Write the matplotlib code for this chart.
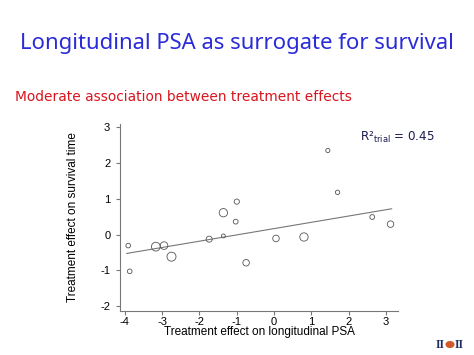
"""Longitudinal PSA as surrogate for survival: trial-level scatter."""

import matplotlib
matplotlib.use("Agg")
import matplotlib.pyplot as plt

# ── data ─────────────────────────────────────────────────────────────────────
psa_effect = [-3.91, -3.87, -3.17, -2.95, -2.75, -1.74, -1.36, -1.36, -1.03,
              -1.00, -0.75, 0.05, 0.80, 1.44, 1.70, 2.63, 3.12]
surv_effect = [-0.31, -1.03, -0.34, -0.31, -0.62, -0.13, -0.04, 0.61, 0.36,
               0.92, -0.79, -0.11, -0.07, 2.35, 1.18, 0.49, 0.29]
trial_weight = [11, 11, 40, 30, 42, 19, 8, 36, 12,
                14, 22, 22, 36, 9, 10, 12, 22]

fit_x = [-3.95, 3.15]
fit_y = [-0.53, 0.72]

x_ticks = [-4, -3, -2, -1, 0, 1, 2, 3]
y_ticks = [-2, -1, 0, 1, 2, 3]

TITLE = "Longitudinal PSA as surrogate for survival"
SUBTITLE = "Moderate association between treatment effects"

# ── figure ───────────────────────────────────────────────────────────────────
fig = plt.figure(figsize=(4.74, 3.55), dpi=100)
fig.patch.set_facecolor("white")

fig.text(237 / 474, 1 - 43 / 355, TITLE, color="#2b2bd8", fontsize=15.9,
         family="Noto Sans", ha="center", va="center")
fig.text(15 / 474, 1 - 97 / 355, SUBTITLE, color="#d8141c", fontsize=9.9,
         family="DejaVu Sans", ha="left", va="center")

ax = fig.add_axes([120 / 474, 1 - 311 / 355, 278 / 474, 187.3 / 355])
ax.scatter(psa_effect, surv_effect, s=trial_weight, facecolors="none",
           edgecolors="#555555", linewidths=0.6, zorder=3)
ax.plot(fit_x, fit_y, color="#777777", linewidth=0.8)

ax.set_xlim(-4.13, 3.32)
ax.set_ylim(-2.14, 3.1)
ax.set_xticks(x_ticks)
ax.set_yticks(y_ticks)
ax.set_xticklabels([str(v) for v in x_ticks])
ax.set_yticklabels([str(v) for v in y_ticks])

for side in ("top", "right"):
    ax.spines[side].set_visible(False)
for side in ("left", "bottom"):
    ax.spines[side].set_color("#777777")
    ax.spines[side].set_linewidth(0.8)
ax.tick_params(direction="out", length=3, width=0.8, color="#777777",
               labelsize=8, labelfontfamily="Liberation Sans")
ax.tick_params(axis="x", pad=1.5)
ax.tick_params(axis="y", pad=4)

ax.set_xlabel("Treatment effect on longitudinal PSA", fontsize=8.5,
              family="Liberation Sans", labelpad=-1)
ax.set_ylabel("Treatment effect on survival time", fontsize=8.5,
              family="Liberation Sans", labelpad=15)

fig.text(360 / 474, 1 - 137 / 355, r"R²$_{\mathrm{trial}}$ = 0.45",
         color="#1a1a50", fontsize=8.6, family="DejaVu Sans",
         ha="left", va="center")

# logo in the corner: II ● II
fig.text(445 / 474, 1 - 345 / 355, "II", color="#1c2a5c", fontsize=8.5,
         family="Liberation Serif", weight="bold", ha="right", va="center")
fig.text(455 / 474, 1 - 345 / 355, "II", color="#1c2a5c", fontsize=8.5,
         family="Liberation Serif", weight="bold", ha="left", va="center")
fig.patches.append(plt.Circle((450 / 474, 1 - 344.5 / 355), 3.8 / 474,
                              transform=fig.transFigure, color="#d25a2a"))

fig.savefig("out.png", dpi=100)
